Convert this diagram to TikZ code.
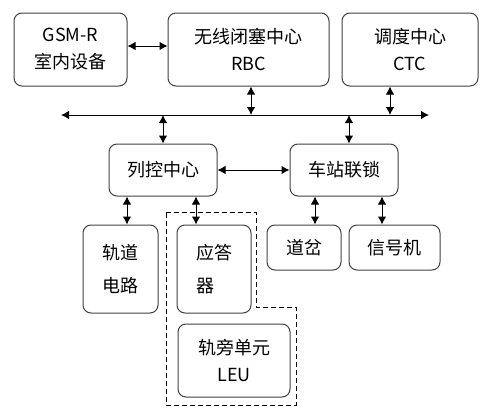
\documentclass[tikz,border=0pt]{standalone}
\usepackage{fontspec}
\setmainfont{Noto Sans CJK SC}
\usetikzlibrary{arrows.meta, positioning}

\begin{document}
\begin{tikzpicture}[>={Latex[length=8pt,width=8.5pt]}]
        \tikzstyle{unit} = [rectangle, draw=black!75, line width=1pt, rounded corners=8pt, align=center, inner sep=0pt, font=\fontsize{18pt}{27pt}\selectfont]
        \tikzstyle{link} = [<->, line width=1pt]

        \useasboundingbox (0pt,0pt) rectangle (485pt,-418pt);

        \node (gsm) [unit, minimum width=113pt, minimum height=73pt] at (70.5pt,-49.5pt) {GSM-R\\室内设备};
        \node (rbc) [unit, minimum width=161pt, minimum height=73pt, right=40pt of gsm] {无线闭塞中心\\RBC};
        \node (ctc) [unit, minimum width=136pt, minimum height=73pt, right=12pt of rbc] {调度中心\\CTC};

        \node (lkzx) [unit, minimum width=108pt, minimum height=52pt, below right=57pt and -19pt of gsm] {列控中心};
        \node (czls) [unit, minimum width=108pt, minimum height=52pt, right=72pt of lkzx] {车站联锁};

        \node (gddl) [unit, minimum width=75pt, minimum height=88pt, below left=28pt and -50pt of lkzx] {轨道\\[6pt]电路};
        \node (ydq) [unit, minimum width=74pt, minimum height=88pt, align=left, right=18pt of gddl] {应答\\[6pt]器};
        \node (dc) [unit, minimum width=74pt, minimum height=45pt, below left=28pt and -52pt of czls] {道岔};
        \node (xhj) [unit, minimum width=91pt, minimum height=45pt, right=7pt of dc] {信号机};
        \node (leu) [unit, minimum width=112pt, minimum height=73pt, below right=10pt and -74pt of ydq] {轨旁单元\\LEU};

        \coordinate (busleft) at (61pt,-115pt);
        \coordinate (busright) at (429pt,-115pt);

        \draw [link] ([yshift=3.5pt]gsm.east) -- ([yshift=3.5pt]rbc.west);
        \draw [link] (busleft) -- (busright);
        \draw [link] ([xshift=2.5pt]rbc.south) -- ([xshift=2.5pt]rbc.south |- busleft);
        \draw [link] ([xshift=-20pt]ctc.south) -- ([xshift=-20pt]ctc.south |- busleft);
        \draw [link] (lkzx.north |- busleft) -- (lkzx.north);
        \draw [link] ([xshift=5pt]czls.north |- busleft) -- ([xshift=5pt]czls.north);
        \draw [link] (lkzx) -- (czls);

        \draw [link] ([xshift=-36pt]lkzx.south) -- ([xshift=-36pt]lkzx.south |- gddl.north);
        \draw [link] ([xshift=33pt]lkzx.south) -- ([xshift=33pt]lkzx.south |- ydq.north);
        \draw [link] ([xshift=-29pt]czls.south) -- ([xshift=-29pt]czls.south |- dc.north);
        \draw [link] ([xshift=38pt]czls.south) -- ([xshift=38pt]czls.south |- xhj.north);

        % balise group
        \draw [dashed, dash pattern=on 5pt off 3pt, line width=1pt] (166pt,-212pt) -- (256pt,-212pt) -- (256pt,-307pt) -- (296pt,-307pt) -- (296pt,-405pt) -- (166pt,-405pt) -- cycle;
\end{tikzpicture}
\end{document}
